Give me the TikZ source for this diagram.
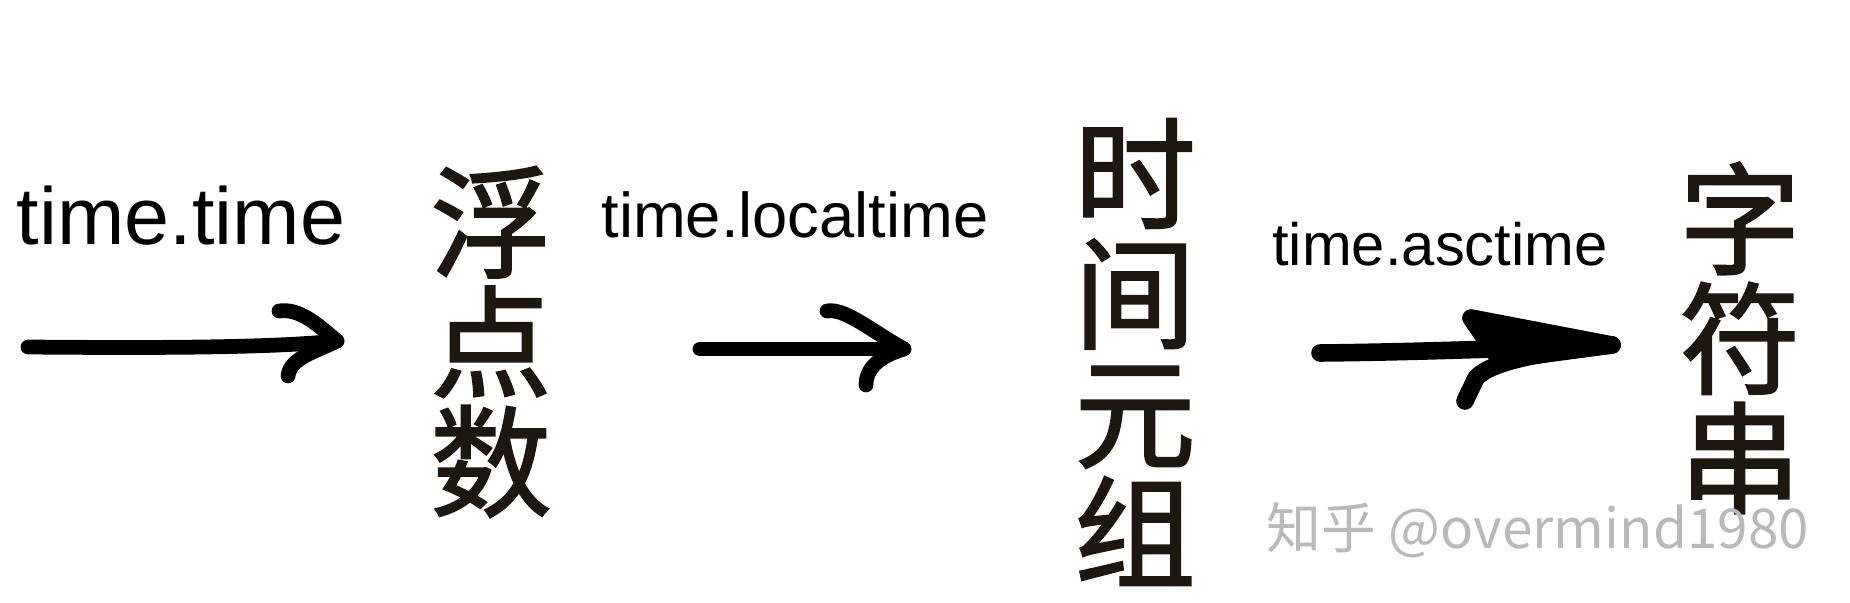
\documentclass[tikz,border=0pt]{standalone}
\usepackage{fontspec}
\setmainfont{Liberation Sans}
\newfontfamily\cjk[FakeBold=1.6]{Noto Sans CJK SC}
\newfontfamily\cjkmark{Noto Sans CJK SC}
\definecolor{ink}{HTML}{1E170F}
\tikzset{
  kind/.style={font=\cjk\fontsize{34.5}{34}\selectfont, text=ink, align=center, inner sep=0pt},
  func/.style={inner sep=0pt, anchor=base},
  pen/.style={line width=4.2pt, line cap=round, line join=round},
  zhihu/.style={font=\cjkmark\fontsize{15.6}{16}\selectfont, text=gray!55, inner sep=0pt},
}

\begin{document}
\begin{tikzpicture}[x=0.01cm, y=-0.01cm]
		\useasboundingbox (0,0) rectangle (1850,603);

		% types
		\node[kind] (float) at (491,342) {浮\\点\\数};
		\node[kind] (tuple) at (1135,352) {时\\间\\元\\组};
		\node[kind] (string) at (1740,338) {字\\符\\串};

		% functions
		\node[func, font=\fontsize{23}{23}\selectfont] (ftime) at (181,245) {time.time};
		\node[func, font=\fontsize{18}{18}\selectfont] (flocal) at (795,238) {time.localtime};
		\node[func, font=\fontsize{17}{17}\selectfont] (fasc) at (1440,265) {time.asctime};

		\node[zhihu] (mark) at (1538,530) {知乎 @overmind1980};

		% arrows
		\coordinate (s1) at (28,347);
		\coordinate (e1) at (337,341);
		\coordinate (s2) at (700,349);
		\coordinate (e2) at (904,349);
		\coordinate (s3) at (1320,353);
		\coordinate (e3) at (1612,345);

		\draw[pen] (s1) .. controls (150,348) and (270,348) .. (e1);
		\draw[pen] (279,311) .. controls (300,308) and (318,325) .. (e1)
		.. controls (315,352) and (290,358) .. (288,376);

		\draw[pen] (s2) -- (e2);
		\draw[pen] (827,311) .. controls (845,308) and (870,330) .. (e2)
		.. controls (880,356) and (866,368) .. (866,385);

		\draw[pen, line width=5pt] (s3) .. controls (1420,352) and (1520,348) .. (e3);
		\draw[pen, line width=5pt, fill] (1471,318) -- (e3) -- (1500,360) -- (1482,334) -- cycle;
		\draw[pen, line width=5pt] (e3) .. controls (1540,352) and (1490,362) .. (1476,378)
		-- (1465,401);

	\end{tikzpicture}
\end{document}
